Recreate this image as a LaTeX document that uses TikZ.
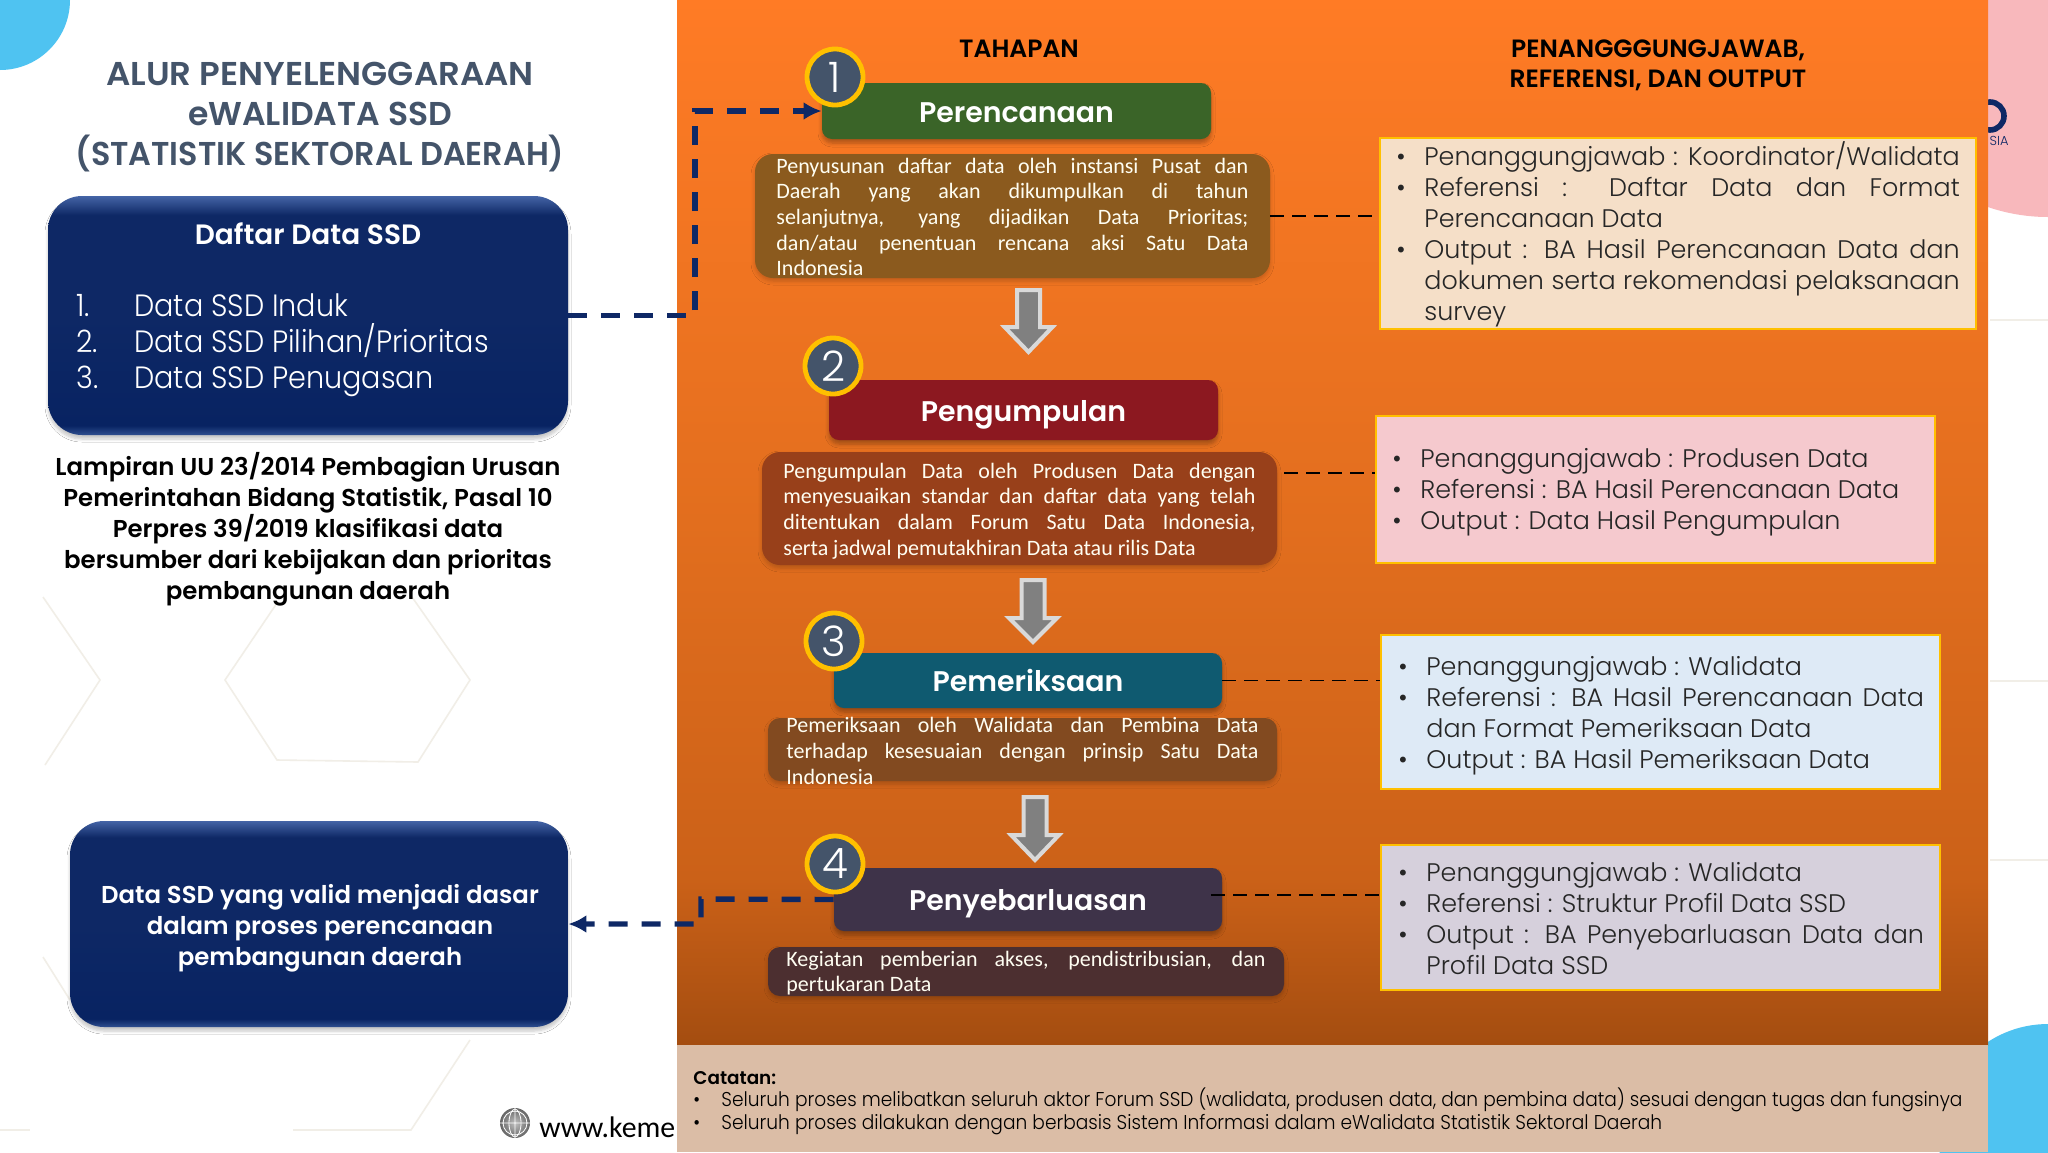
\documentclass[tikz,border=0pt]{standalone}
\usepackage{fontspec}
\setmainfont{Poppins}
\newfontfamily\gl{Poppins Light}
\newfontfamily\glx[FakeStretch=0.93]{Poppins Light}
\newfontfamily\gb{Poppins SemiBold}
\newfontfamily\crl{Carlito}
\usetikzlibrary{calc,arrows.meta,shadows.blur}
\definecolor{navy}{HTML}{0E2865}
\definecolor{gold}{HTML}{FFC000}
\definecolor{slate}{HTML}{44546A}
\definecolor{sky}{HTML}{4FC3F1}
\definecolor{pinky}{HTML}{F8B8BC}
\definecolor{beige}{HTML}{DBBDA6}
\definecolor{hexline}{HTML}{F1EEE7}
\definecolor{oa}{HTML}{A44D10}
\definecolor{ob}{HTML}{CB6118}
\definecolor{oc}{HTML}{E26E1E}
\definecolor{od}{HTML}{FF7B25}
\definecolor{na}{HTML}{2F4F90}
\definecolor{nb}{HTML}{082362}
\definecolor{nc}{HTML}{4464A6}
\definecolor{hgreen}{HTML}{3A6428}
\definecolor{hred}{HTML}{8C1820}
\definecolor{hteal}{HTML}{0F5A70}
\definecolor{hplum}{HTML}{3E3349}
\definecolor{dochre}{HTML}{8B5A1E}
\definecolor{drust}{HTML}{98401A}
\definecolor{dbrown}{HTML}{824A20}
\definecolor{ddark}{HTML}{4C2F30}
\definecolor{rsand}{HTML}{F5DFC8}
\definecolor{rrose}{HTML}{F5C9CE}
\definecolor{rblue}{HTML}{DEEAF6}
\definecolor{rlilac}{HTML}{D6D0DC}
\pgfdeclareverticalshading{orangegrad}{100bp}{color(0bp)=(oa);color(25bp)=(oa);color(33bp)=(ob);color(50bp)=(oc);color(75bp)=(od);color(100bp)=(od)}
\pgfdeclareverticalshading{navygrad}{100bp}{color(0bp)=(na);color(25bp)=(na);color(27bp)=(nb);color(50bp)=(navy);color(71bp)=(navy);color(75bp)=(nc);color(100bp)=(nc)}
\tikzset{
 navybox/.style={shading=navygrad,rounded corners=17pt,blur shadow={shadow xshift=0pt,shadow yshift=-2pt,shadow blur radius=1.5pt,shadow blur steps=6,shadow opacity=22}},
 header/.style={rounded corners=5pt,text=white,font=\gb\fontsize{14.2}{18}\selectfont,text height=11pt,text depth=0pt,blur shadow={shadow xshift=0pt,shadow yshift=-2pt,shadow blur radius=2pt,shadow blur steps=5,shadow opacity=30}},
 descbox/.style={rounded corners=9pt,blur shadow={shadow xshift=0pt,shadow yshift=-1.5pt,shadow blur radius=2pt,shadow blur steps=5,shadow opacity=20}},
 desctext/.style={anchor=west,inner sep=0pt,align=left,text=white!95!yellow,font=\crl\fontsize{11}{12.8}\selectfont},
 rbox/.style={draw=gold,line width=1.3pt},
 rtext/.style={anchor=west,inner sep=0pt,align=left,text=black!85,font=\gl\fontsize{12.7}{15.5}\selectfont},
 badge/.style={circle,draw=gold,line width=2.4pt,fill=slate,text=white,minimum size=28pt,inner sep=0pt,font=\gl\fontsize{21}{24}\selectfont},
 navydash/.style={draw=navy,line width=2.7pt,dash pattern=on 9.5pt off 7pt},
 thindash/.style={draw=black,line width=.7pt,dash pattern=on 7pt off 4pt},
 grayarrow/.style={fill=black!50,draw=black!15,line width=2pt,line join=miter},
 hex/.style={draw=hexline,line width=.8pt},
 coltitle/.style={inner sep=0pt,align=center,text=black,font=\gb\fontsize{12.5}{15}\selectfont},
}
\newcommand{\jl}[2]{\makebox[#1pt][s]{#2}}
\newcommand{\bl}[1]{\makebox[14pt][l]{•}#1}
\newcommand{\cl}[1]{\hspace*{14pt}#1}
\newcommand{\rboxnode}[7]{%
 \pgfmathsetmacro{\cx}{(#3+#5)/2}\pgfmathsetmacro{\cy}{(#4+#6)/2}%
 \pgfmathsetmacro{\bw}{(#5-#3)/2}\pgfmathsetmacro{\bh}{(#6-#4)/2}%
 \node[#1,minimum width=\bw pt,minimum height=\bh pt,inner sep=0pt,align=center] (#2) at (\cx,\cy) {#7};}
\newcommand{\garrow}[4]{\draw[grayarrow] (#1-11.5,#2) -- (#1+11.5,#2) -- (#1+11.5,#3) -- (#1+24,#3) -- (#1,#4) -- (#1-24,#3) -- (#1-11.5,#3) -- cycle;}
\begin{document}
\begin{tikzpicture}[x=0.5pt,y=-0.5pt]
\useasboundingbox (0,0) rectangle (2048,1152);
\fill[white] (0,0) rectangle (2048,1152);
\begin{scope}
\clip (0,0) rectangle (2048,1152);
% faint background hexagons
\draw[hex] (43,597) -- (100,680) -- (45,765);
\draw[hex] (277,603) -- (225,680) -- (277,760) -- (418,762) -- (470,680) -- (412,597);
\draw[hex] (43,957) -- (70,1000);
\draw[hex] (470,1040) -- (411,1130) -- (293,1130);
\draw[hex] (0,1130) -- (30,1130);
\draw[hex] (1990,320) -- (2048,320);
\draw[hex] (1990,681) -- (2048,681);
\draw[hex] (1990,860) -- (2048,860);
% corner shapes
\fill[sky] (0,0) circle (70);
\fill[pinky] (2048,32) circle (185);
\fill[sky] (2048,1134) circle (110);
\draw[navy,line width=2.8pt] (1990,116) circle (14);
\node[inner sep=0pt,text=navy,font=\gl\fontsize{6.5}{7}\selectfont] (sia) at (1999,141) {SIA};
\end{scope}
% panels
\fill[shading=orangegrad] (677,0) rectangle (1988,1045);
\fill[beige] (677,1045) rectangle (1988,1152);
% left column
\node[inner sep=0pt,align=center,text=slate,font=\gb\fontsize{16.5}{20.2}\selectfont] (title) at (320,117) {\scalebox{1.03}[1]{ALUR PENYELENGGARAAN}\\eWALIDATA SSD\\\scalebox{0.965}[1]{(STATISTIK SEKTORAL DAERAH)}};
\rboxnode{navybox}{daftar}{48}{196}{568}{435}{}
\node[inner sep=0pt,text=white,font=\gb\fontsize{14}{18}\selectfont] (daftart) at (308,234) {Daftar Data SSD};
\node[anchor=west,inner sep=0pt,align=left,text=white,font=\glx\fontsize{15.4}{18}\selectfont] (daftarl) at (76,345) {\makebox[29pt][l]{1.}Data SSD Induk\\\makebox[29pt][l]{2.}Data SSD Pilihan/Prioritas\\\makebox[29pt][l]{3.}Data SSD Penugasan};
\node[inner sep=0pt,align=center,text=black,font=\gb\fontsize{12.2}{15.5}\selectfont] (lampiran) at (308,529) {Lampiran UU 23/2014 Pembagian Urusan\\Pemerintahan Bidang Statistik, Pasal 10\\Perpres 39/2019 klasifikasi data\\bersumber dari kebijakan dan prioritas\\pembangunan daerah};
\rboxnode{navybox}{hasil}{70}{821}{568}{1027}{}
\node[inner sep=0pt,align=center,text=white,font=\gb\fontsize{12.2}{15.5}\selectfont] (hasilt) at (320,928) {Data SSD yang valid menjadi dasar\\dalam proses perencanaan\\pembangunan daerah};
% website
\node[circle,inner sep=0pt,minimum size=15pt,shading=radial,inner color=black!25,outer color=black!60] (globe) at (515,1123) {};
\draw[white,line width=.4pt] (globe.center) circle (6pt) (globe.north) -- (globe.south) (globe.west) -- (globe.east);
\draw[white,line width=.4pt] (globe.center) ellipse (3pt and 7pt);
\node[anchor=west,inner sep=0pt,text=black,font=\crl\fontsize{14.9}{18}\selectfont] (web) at (539,1127) {www.keme};
% column titles
\node[coltitle] (t1) at (1019,49) {TAHAPAN};
\node[coltitle] (t2) at (1658,65) {PENANGGGUNGJAWAB,\\REFERENSI, DAN OUTPUT};
% headers
\rboxnode{header,fill=hgreen}{h1}{822}{83}{1211}{139}{Perencanaan}
\rboxnode{header,fill=hred}{h2}{829}{380}{1218}{440}{Pengumpulan}
\rboxnode{header,fill=hteal}{h3}{834}{653}{1222}{708}{Pemeriksaan}
\rboxnode{header,fill=hplum}{h4}{834}{868}{1222}{931}{Penyebarluasan}
% descriptions
\rboxnode{descbox,fill=dochre}{d1}{755}{154}{1270}{278}{}
\rboxnode{descbox,fill=drust}{d2}{762}{452}{1277}{565}{}
\rboxnode{descbox,fill=dbrown,rounded corners=6pt}{d3}{768}{718}{1277}{781}{}
\rboxnode{descbox,fill=ddark,rounded corners=6pt}{d4}{768}{947}{1284}{996}{}
\node[desctext] (d1t) at (776,217) {\jl{236}{Penyusunan daftar data oleh instansi Pusat dan}\\\jl{236}{Daerah yang akan dikumpulkan di tahun}\\\jl{236}{selanjutnya, yang dijadikan Data Prioritas;}\\\jl{236}{dan/atau penentuan rencana aksi Satu Data}\\Indonesia};
\node[desctext] (d2t) at (783,511) {\jl{236}{Pengumpulan Data oleh Produsen Data dengan}\\\jl{236}{menyesuaikan standar dan daftar data yang telah}\\\jl{236}{ditentukan dalam Forum Satu Data Indonesia,}\\serta jadwal pemutakhiran Data atau rilis Data};
\node[desctext] (d3t) at (786,751) {\jl{236}{Pemeriksaan oleh Walidata dan Pembina Data}\\\jl{236}{terhadap kesesuaian dengan prinsip Satu Data}\\Indonesia};
\node[desctext] (d4t) at (786,973) {\jl{239.5}{Kegiatan pemberian akses, pendistribusian, dan}\\pertukaran Data};
% gray arrows
\garrow{1028.5}{290}{327}{352}
\garrow{1033}{580}{618}{642}
\garrow{1035}{797}{835}{860}
% right boxes
\rboxnode{rbox,fill=rsand}{r1}{1380}{138}{1976}{329}{}
\rboxnode{rbox,fill=rrose}{r2}{1376}{416}{1935}{563}{}
\rboxnode{rbox,fill=rblue}{r3}{1381}{635}{1940}{789}{}
\rboxnode{rbox,fill=rlilac}{r4}{1381}{845}{1940}{990}{}
\node[rtext] (r1t) at (1396,234.5) {\bl{\jl{267.7}{Penanggungjawab : Koordinator/Walidata}}\\\bl{\jl{267.7}{Referensi : Daftar Data dan Format}}\\\cl{Perencanaan Data}\\\bl{\jl{267.7}{Output : BA Hasil Perencanaan Data dan}}\\\cl{\jl{267.7}{dokumen serta rekomendasi pelaksanaan}}\\\cl{survey}};
\node[rtext] (r2t) at (1392,492) {\bl{Penanggungjawab : Produsen Data}\\\bl{Referensi : BA Hasil Perencanaan Data}\\\bl{Output : Data Hasil Pengumpulan}};
\node[rtext] (r3t) at (1398,716) {\bl{Penanggungjawab : Walidata}\\\bl{\jl{248.8}{Referensi : BA Hasil Perencanaan Data}}\\\cl{dan Format Pemeriksaan Data}\\\bl{Output : BA Hasil Pemeriksaan Data}};
\node[rtext] (r4t) at (1398,918.5) {\bl{Penanggungjawab : Walidata}\\\bl{Referensi : Struktur Profil Data SSD}\\\bl{\jl{248.8}{Output : BA Penyebarluasan Data dan}}\\\cl{Profil Data SSD}};
% thin connectors
\coordinate (n2) at (1284,473);
\coordinate (n4) at (1211,895);
\draw[thindash] (d1.east) -- (d1.east -| r1.west);
\draw[thindash] (n2) -- (n2 -| r2.west);
\draw[thindash] (h3.east) -- (h3.east -| r3.west);
\draw[thindash] (n4) -- (n4 -| r4.west);
% navy connectors
\coordinate (c1) at (695,111);
\coordinate (c4a) at (701,899);
\coordinate (c4b) at (701,924);
\draw[navydash,-{Latex[length=9pt,width=9pt]}] (daftar.east) -| (c1) -- (h1.west);
\draw[navydash,-{Latex[length=9pt,width=9pt]}] (h4.west) -- (c4a) -- (c4b) -- (hasil.east);
% badges
\node[badge] (b1) at (835,77) {1};
\node[badge] (b2) at (833,366) {2};
\node[badge] (b3) at (834,641) {3};
\node[badge] (b4) at (835,864) {4};
% notes
\node[anchor=west,inner sep=0pt,align=left,text=black,font=\glx\fontsize{10}{11.3}\selectfont] (notes) at (693,1103) {{\gb\fontsize{9.2}{11.3}\selectfont Catatan:}\\\makebox[14pt][l]{•}Seluruh proses melibatkan seluruh aktor Forum SSD (walidata, produsen data, dan pembina data) sesuai dengan tugas dan fungsinya\\\makebox[14pt][l]{•}Seluruh proses dilakukan dengan berbasis Sistem Informasi dalam eWalidata Statistik Sektoral Daerah};
\end{tikzpicture}
\end{document}
